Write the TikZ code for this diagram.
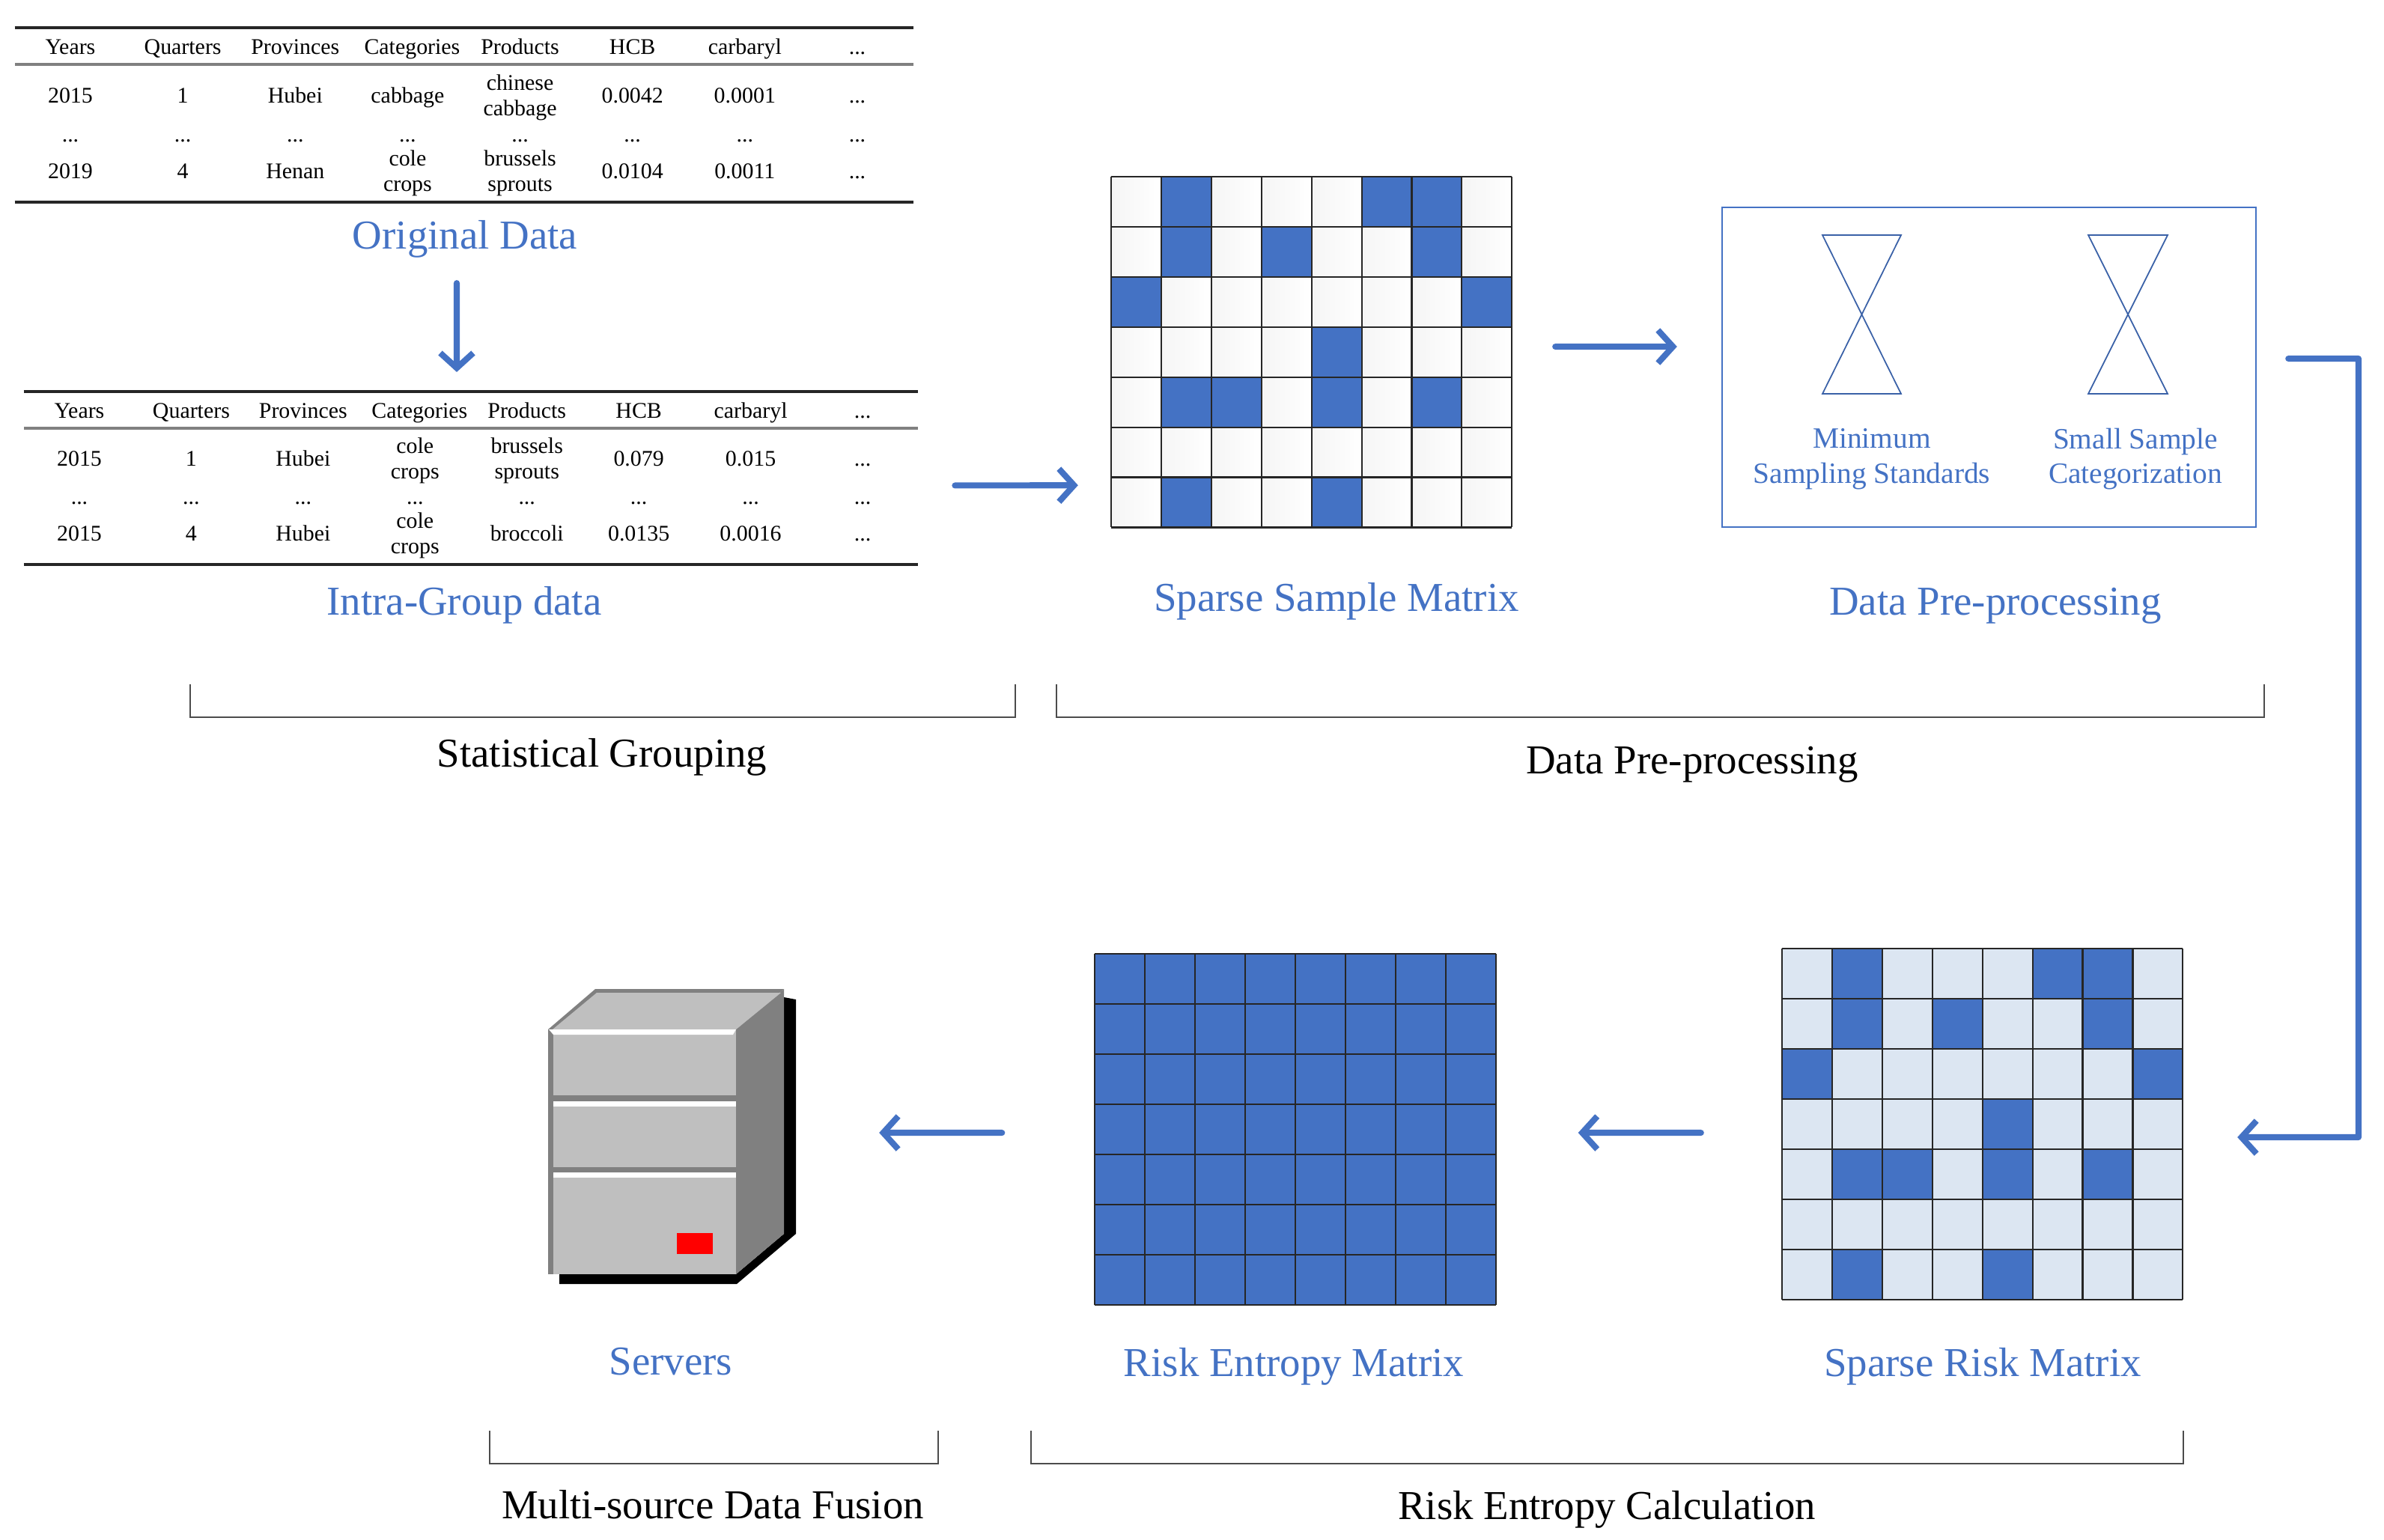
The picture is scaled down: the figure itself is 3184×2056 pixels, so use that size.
\documentclass[tikz,border=0pt]{standalone}
\usepackage{fontspec}
\setmainfont{Liberation Serif}
\usetikzlibrary{arrows.meta,calc,positioning}
\definecolor{flowblue}{HTML}{4472C4}
\definecolor{lightcell}{HTML}{DCE6F2}
\definecolor{servergray}{HTML}{BFBFBF}
\definecolor{serverdark}{HTML}{808080}
\tikzset{
    frame/.style={inner sep=0pt,outer sep=0pt},
    cell/.style={inner sep=0pt,align=center,font=\fontsize{8.5}{9.7}\selectfont},
    caption/.style={inner sep=0pt,text=flowblue,font=\fontsize{15.6}{19}\selectfont},
    sublabel/.style={inner sep=0pt,align=center,text=flowblue,font=\fontsize{11.2}{13.2}\selectfont},
    steplabel/.style={inner sep=0pt,font=\fontsize{15.6}{19}\selectfont},
    flow/.style={draw=flowblue,line width=2.3pt,line cap=round,line join=round,
        -{Straight Barb[length=.2cm,width=.44cm,line width=2.3pt]}},
    rule/.style={draw=black!85,line width=1pt},
    midrule/.style={draw=black!50,line width=1pt},
    bracket/.style={draw=black!70,line width=.8pt},
    gridline/.style={draw=black!85,line width=.6pt},
    glass/.style={draw=flowblue!85!black,line width=.5pt},
    fadecell/.style={left color=black!4,right color=white},
    lightfill/.style={fill=lightcell},
    bluefill/.style={fill=flowblue}
}
% the dots of a table cell
\newcommand{\etc}{...}
% one table row: prefix, first column, column step, y, cells
\newcommand{\tablerow}[5]{
    \foreach \txt [count=\i] in {#5}
        \node[cell] (#1\i) at ({#2+#3*(\i-1)},#4) {\strut\txt\strut};
}
% 8 by 7 cells on a node: node, base style, marked cells
\newcommand{\cellgrid}[3]{
    \begin{scope}[shift={(#1.north west)},x=.669cm,y=-.669cm]
        \foreach \cx in {1,...,8}
            \foreach \ry in {1,...,7}
                \path[#2] (\cx-1,\ry-1) rectangle (\cx,\ry);
        \foreach \cx/\ry in #3
            \fill[flowblue] (\cx-1,\ry-1) rectangle (\cx,\ry);
        \foreach \cx in {0,...,8}
            \draw[gridline] (\cx,0) -- (\cx,7);
        \foreach \ry in {0,...,7}
            \draw[gridline] (0,\ry) -- (8,\ry);
    \end{scope}
}
\newcommand{\sparsecells}{2/1,6/1,7/1,2/2,4/2,7/2,1/3,8/3,5/4,2/5,3/5,5/5,7/5,2/7,5/7}

\begin{document}
\begin{tikzpicture}[x=.01cm,y=-.01cm]
    \useasboundingbox (0,0) rectangle (3184,2056);

    % blocks
    \node[frame,minimum width=12cm,minimum height=2.33cm]      (tabA)    at (620,153.5)    {};
    \node[frame,minimum width=11.94cm,minimum height=2.31cm]   (tabB)    at (629,638.5)    {};
    \node[frame,minimum width=5.35cm,minimum height=4.68cm]    (sample)  at (1751.5,470)   {};
    \node[frame,draw=flowblue,line width=.7pt,minimum width=7.13cm,minimum height=4.27cm] (prep) at (2656.5,490.5) {};
    \node[frame,minimum width=5.35cm,minimum height=4.68cm]    (risk)    at (2647.5,1501.5) {};
    \node[frame,minimum width=5.35cm,minimum height=4.68cm]    (entropy) at (1730,1508.5)  {};
    \node[frame,minimum width=3.31cm,minimum height=3.94cm]    (server)  at (897.5,1518)   {};

    % tables
    \draw[rule] (tabA.north west) -- (tabA.north east);
    \draw[midrule] (20,86) -- (1220,86);
    \draw[rule] (tabA.south west) -- (tabA.south east);
    \tablerow{ah}{94}{150.14}{66}{Years,Quarters,Provinces,\hspace*{.12cm}Categories,Products,HCB,carbaryl,\etc}
    \tablerow{aa}{94}{150.14}{131}{2015,1,Hubei,cabbage,{chinese\\cabbage},0.0042,0.0001,\etc}
    \tablerow{ab}{94}{150.14}{183}{\etc,\etc,\etc,\etc,\etc,\etc,\etc,\etc}
    \tablerow{ac}{94}{150.14}{232}{2019,4,Henan,{cole\\crops},{brussels\\sprouts},0.0104,0.0011,\etc}

    \draw[rule] (tabB.north west) -- (tabB.north east);
    \draw[midrule] (32,572) -- (1226,572);
    \draw[rule] (tabB.south west) -- (tabB.south east);
    \tablerow{bh}{106}{149.43}{552}{Years,Quarters,Provinces,\hspace*{.12cm}Categories,Products,HCB,carbaryl,\etc}
    \tablerow{ba}{106}{149.43}{616}{2015,1,Hubei,{cole\\crops},{brussels\\sprouts},0.079,0.015,\etc}
    \tablerow{bb}{106}{149.43}{667}{\etc,\etc,\etc,\etc,\etc,\etc,\etc,\etc}
    \tablerow{bc}{106}{149.43}{716}{2015,4,Hubei,{cole\\crops},broccoli,0.0135,0.0016,\etc}

    % matrices
    \cellgrid{sample}{fadecell}{\sparsecells}
    \cellgrid{risk}{lightfill}{\sparsecells}
    \cellgrid{entropy}{bluefill}{{1/1}}

    % pre-processing box
    \draw[glass] (2434,314) -- (2539,314) -- (2434,526) -- (2539,526) -- cycle;
    \draw[glass] (2789,314) -- (2895,314) -- (2789,526) -- (2895,526) -- cycle;
    \node[sublabel] (minstd) at (2500,613) {Minimum\\Sampling Standards};
    \node[sublabel] (smallcat) at (2852,613) {Small Sample\\Categorization};

    % server
    \fill[black] (747,1702) -- (747,1715) -- (984,1715) -- (1063,1648) -- (1063,1335)
        -- (1047,1332) -- (1047,1648) -- (983,1702) -- cycle;
    \fill[serverdark] (983,1375) -- (1047,1321) -- (1047,1648) -- (983,1702) -- cycle;
    \fill[serverdark] (732,1375) -- (795,1321) -- (1047,1321) -- (983,1375) -- cycle;
    \fill[servergray] (738,1375) -- (797,1326) -- (1043,1326) -- (983,1375) -- cycle;
    \fill[servergray] (732,1375) rectangle (983,1702);
    \fill[serverdark] (732,1375) rectangle (739,1702);
    \fill[serverdark] (739,1463) rectangle (983,1471);
    \fill[serverdark] (739,1559) rectangle (983,1566);
    \fill[white] (733,1375) -- (983,1375) -- (979,1382) -- (739,1382) -- cycle;
    \fill[white] (739,1471) rectangle (983,1478);
    \fill[white] (739,1566) rectangle (983,1573);
    \fill[red] (904,1647) rectangle (952,1675);

    % captions
    \node[caption] (origcap)    at (621,319)   {Original Data};
    \node[caption] (intracap)   at (620,808)   {Intra-Group data};
    \node[caption] (samplecap)  at (1785,803)  {Sparse Sample Matrix};
    \node[caption] (prepcap)    at (2665,809)  {Data Pre-processing};
    \node[caption] (servercap)  at (896,1819)  {Servers};
    \node[caption] (entropycap) at (1728,1825) {Risk Entropy Matrix};
    \node[caption] (riskcap)    at (2648,1825) {Sparse Risk Matrix};

    % step brackets
    \draw[bracket] (254,914) |- (1356,958) -- (1356,914);
    \draw[bracket] (1411,914) |- (3024,958) -- (3024,914);
    \draw[bracket] (654,1911) |- (1253,1955) -- (1253,1911);
    \draw[bracket] (1377,1911) |- (2916,1955) -- (2916,1911);
    \node[steplabel] (groupstep)   at (804,1011)  {Statistical Grouping};
    \node[steplabel] (prepstep)    at (2260,1021) {Data Pre-processing};
    \node[steplabel] (fusionstep)  at (952,2010)  {Multi-source Data Fusion};
    \node[steplabel] (entropystep) at (2146,2016) {Risk Entropy Calculation};

    % flow
    \coordinate (turnA) at (3150,479);
    \coordinate (turnB) at (3150,1519);
    \draw[flow,shorten <=1.08cm,shorten >=.26cm] ([xshift=-.1cm]tabA.south) -- ([xshift=-.19cm]tabB.north);
    \draw[flow,shorten <=.49cm,shorten >=.44cm] ([yshift=-.1cm]tabB.east) -- ([yshift=-1.78cm]sample.west);
    \draw[flow,shorten <=.58cm,shorten >=.6cm] ([yshift=.07cm]sample.east) -- ([yshift=.275cm]prep.west);
    \draw[flow,shorten <=.43cm,shorten >=.73cm] ([yshift=.115cm]prep.east) -- (turnA) -- (turnB) -- ([yshift=-.175cm]risk.east);
    \draw[flow,shorten <=1.08cm,shorten >=1.1cm] ([yshift=-.115cm]risk.west) -- ([yshift=-.045cm]entropy.east);
    \draw[flow,shorten <=1.24cm,shorten >=1.11cm] ([yshift=-.045cm]entropy.west) -- ([yshift=.05cm]server.east);
\end{tikzpicture}
\end{document}
